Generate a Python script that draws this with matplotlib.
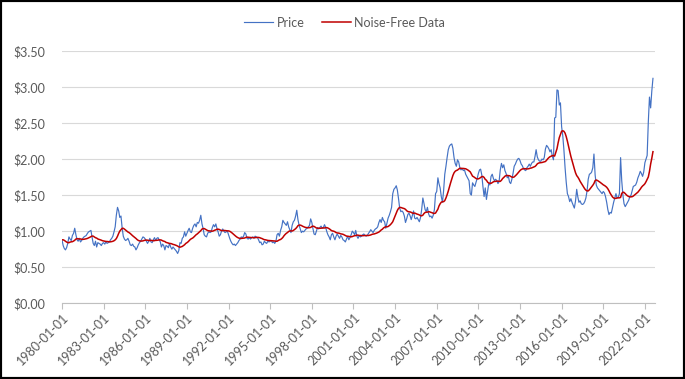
import numpy as np
import pandas as pd
import matplotlib
matplotlib.use("Agg")
import matplotlib.pyplot as plt
import matplotlib.dates as mdates
from matplotlib.ticker import FuncFormatter, MultipleLocator
from matplotlib.patches import Rectangle

# monthly price, Jan 1980 .. Aug 2022
price_1980s = [
    0.88, 0.80, 0.76, 0.74, 0.77, 0.83, 0.92, 0.89, 0.87, 0.94, 0.97, 1.04,
    0.95, 0.88, 0.86, 0.90, 0.85, 0.87, 0.90, 0.92, 0.93, 0.94, 0.97, 0.99,
    1.00, 1.01, 0.92, 0.83, 0.80, 0.86, 0.78, 0.84, 0.83, 0.82, 0.80, 0.83,
    0.84, 0.82, 0.85, 0.83, 0.84, 0.85, 0.88, 0.90, 0.93, 0.99, 1.06, 1.22,
    1.33, 1.28, 1.19, 1.21, 1.05, 0.93, 0.89, 0.87, 0.88, 0.90, 0.86, 0.81,
    0.80, 0.82, 0.79, 0.78, 0.74, 0.77, 0.81, 0.84, 0.86, 0.89, 0.92, 0.91,
    0.89, 0.86, 0.83, 0.86, 0.90, 0.85, 0.84, 0.88, 0.91, 0.87, 0.90, 0.91,
    0.88, 0.85, 0.78, 0.82, 0.80, 0.74, 0.80, 0.79, 0.77, 0.83, 0.78, 0.75,
    0.78, 0.76, 0.74, 0.72, 0.69, 0.73, 0.84, 0.83, 0.90, 0.92, 0.99, 0.93,
    0.97, 1.01, 1.04, 0.99, 0.98, 1.04, 1.08, 1.10, 1.06, 1.12, 1.11, 1.15,
]
price_1990s = [
    1.22, 1.10, 1.04, 0.95, 0.93, 0.92, 0.97, 0.99, 0.98, 0.99, 1.05, 1.09,
    1.06, 1.10, 1.04, 0.99, 0.93, 0.95, 1.00, 1.03, 1.00, 0.98, 0.99, 1.00,
    0.95, 0.90, 0.86, 0.83, 0.81, 0.82, 0.80, 0.82, 0.84, 0.87, 0.89, 0.92,
    0.91, 0.93, 0.98, 0.96, 0.90, 0.89, 0.91, 0.89, 0.91, 0.92, 0.90, 0.93,
    0.92, 0.91, 0.88, 0.84, 0.85, 0.81, 0.82, 0.86, 0.84, 0.83, 0.86, 0.85,
    0.86, 0.87, 0.84, 0.85, 0.83, 0.86, 0.95, 0.97, 0.93, 1.01, 1.06, 1.15,
    1.12, 1.10, 1.08, 1.13, 1.06, 1.02, 0.98, 1.08, 1.13, 1.15, 1.21, 1.29,
    1.16, 1.08, 1.03, 0.98, 1.00, 0.99, 1.01, 1.03, 1.04, 1.06, 1.08, 1.17,
    1.12, 1.03, 0.96, 0.95, 1.00, 1.05, 1.03, 1.05, 1.07, 1.04, 1.05, 1.09,
    1.05, 0.99, 0.95, 0.92, 0.88, 0.95, 0.97, 0.92, 0.88, 0.93, 0.96, 0.93,
]
price_2000s = [
    0.90, 0.94, 0.92, 0.88, 0.87, 0.85, 0.89, 0.93, 0.88, 0.91, 0.95, 1.00,
    0.98, 0.95, 1.01, 0.93, 0.90, 0.94, 0.92, 0.93, 0.95, 0.96, 0.94, 0.93,
    0.94, 0.97, 0.99, 1.02, 1.00, 0.98, 1.01, 1.03, 1.04, 1.06, 1.12, 1.16,
    1.12, 1.19, 1.15, 1.13, 1.04, 1.11, 1.18, 1.22, 1.27, 1.33, 1.52, 1.58,
    1.60, 1.63, 1.57, 1.45, 1.32, 1.27, 1.28, 1.26, 1.21, 1.12, 1.17, 1.23,
    1.25, 1.21, 1.16, 1.22, 1.28, 1.18, 1.17, 1.19, 1.16, 1.13, 1.19, 1.30,
    1.46, 1.38, 1.30, 1.27, 1.33, 1.24, 1.20, 1.21, 1.18, 1.22, 1.30, 1.52,
    1.55, 1.74, 1.66, 1.60, 1.48, 1.40, 1.56, 1.79, 1.90, 2.02, 2.13, 2.18,
    2.20, 2.21, 2.15, 2.02, 1.94, 1.90, 1.99, 1.96, 1.88, 1.85, 1.87, 1.84,
    1.85, 1.79, 1.76, 1.73, 1.70, 1.52, 1.50, 1.67, 1.64, 1.62, 1.68, 1.73,
]
price_2010s = [
    1.80, 1.85, 1.86, 1.78, 1.62, 1.48, 1.60, 1.44, 1.55, 1.66, 1.64, 1.76,
    1.79, 1.73, 1.70, 1.72, 1.70, 1.66, 1.69, 1.85, 1.94, 1.88, 1.92, 1.84,
    1.80, 1.74, 1.76, 1.68, 1.66, 1.72, 1.80, 1.90, 1.93, 1.97, 2.00, 2.01,
    1.98, 1.93, 1.91, 1.87, 1.85, 1.84, 1.88, 1.90, 1.93, 1.90, 1.94, 1.96,
    1.96, 2.04, 2.13, 2.03, 1.99, 1.97, 1.97, 2.00, 1.99, 2.02, 2.14, 2.19,
    2.17, 2.14, 2.10, 2.13, 2.04, 1.99, 2.57, 2.58, 2.96, 2.95, 2.75, 2.78,
    2.45, 2.32, 2.13, 1.88, 1.68, 1.52, 1.48, 1.41, 1.45, 1.40, 1.36, 1.32,
    1.42, 1.58, 1.48, 1.40, 1.42, 1.38, 1.37, 1.38, 1.41, 1.46, 1.56, 1.72,
    1.79, 1.80, 1.82, 1.88, 2.07, 1.78, 1.64, 1.60, 1.58, 1.56, 1.54, 1.52,
    1.55, 1.53, 1.48, 1.40, 1.30, 1.23, 1.26, 1.25, 1.33, 1.40, 1.46, 1.52,
]
price_2020s = [
    1.46, 1.47, 1.52, 2.02, 1.70, 1.50, 1.38, 1.34, 1.37, 1.40, 1.43, 1.48,
    1.50, 1.56, 1.62, 1.63, 1.64, 1.68, 1.74, 1.78, 1.83, 1.80, 1.76, 1.82,
    1.95, 2.00, 2.05, 2.52, 2.86, 2.71, 2.94, 3.12,
]

price = np.array(price_1980s + price_1990s + price_2000s + price_2010s + price_2020s)
dates = pd.date_range("1980-01-01", periods=len(price), freq="MS")

# noise-free series: exponential smoothing of the price (damping 0.9)
alpha = 0.1
smooth = np.empty_like(price)
smooth[0] = price[0]
for i in range(1, len(price)):
    smooth[i] = alpha * price[i - 1] + (1 - alpha) * smooth[i - 1]

plt.rcParams["font.family"] = ["Lato", "DejaVu Sans"]
grey = "#595959"

fig = plt.figure(figsize=(6.85, 3.79), dpi=100)
ax = fig.add_axes([0.0905, 0.2, 0.8655, 0.6655])

ax.plot(dates, price, color="#4472C4", lw=0.85, label="Price")
ax.plot(dates, smooth, color="#C00000", lw=1.1, label="Noise-Free Data")

ax.set_ylim(0, 3.5)
ax.yaxis.set_major_locator(MultipleLocator(0.5))
ax.yaxis.set_major_formatter(FuncFormatter(lambda v, p: "${:.2f}".format(v)))
ax.set_xlim(pd.Timestamp("1980-01-01"), pd.Timestamp("2022-09-20"))
ax.xaxis.set_major_locator(mdates.YearLocator(3))
ax.xaxis.set_major_formatter(mdates.DateFormatter("%Y-%m-%d"))

ax.grid(axis="y", color="#d9d9d9", lw=0.8)
ax.set_axisbelow(True)
for s in ["top", "right", "left"]:
    ax.spines[s].set_visible(False)
ax.spines["bottom"].set_color("#bfbfbf")
ax.tick_params(axis="y", length=0, colors=grey, labelsize=9, pad=12)
ax.tick_params(axis="x", length=4, color="#bfbfbf", colors=grey, labelsize=9, pad=2)
for lab in ax.get_xticklabels():
    lab.set_rotation(45)
    lab.set_ha("right")
    lab.set_rotation_mode("anchor")

fig.legend(loc="center", bbox_to_anchor=(0.503, 0.94), ncol=2, frameon=False,
           fontsize=9, handlelength=2.3, columnspacing=1.4, handletextpad=0.3,
           labelcolor=grey)

fig.add_artist(Rectangle((0, 0), 1, 1, transform=fig.transFigure, fill=False,
                         edgecolor="black", lw=3))

fig.savefig("out.png", dpi=100)
